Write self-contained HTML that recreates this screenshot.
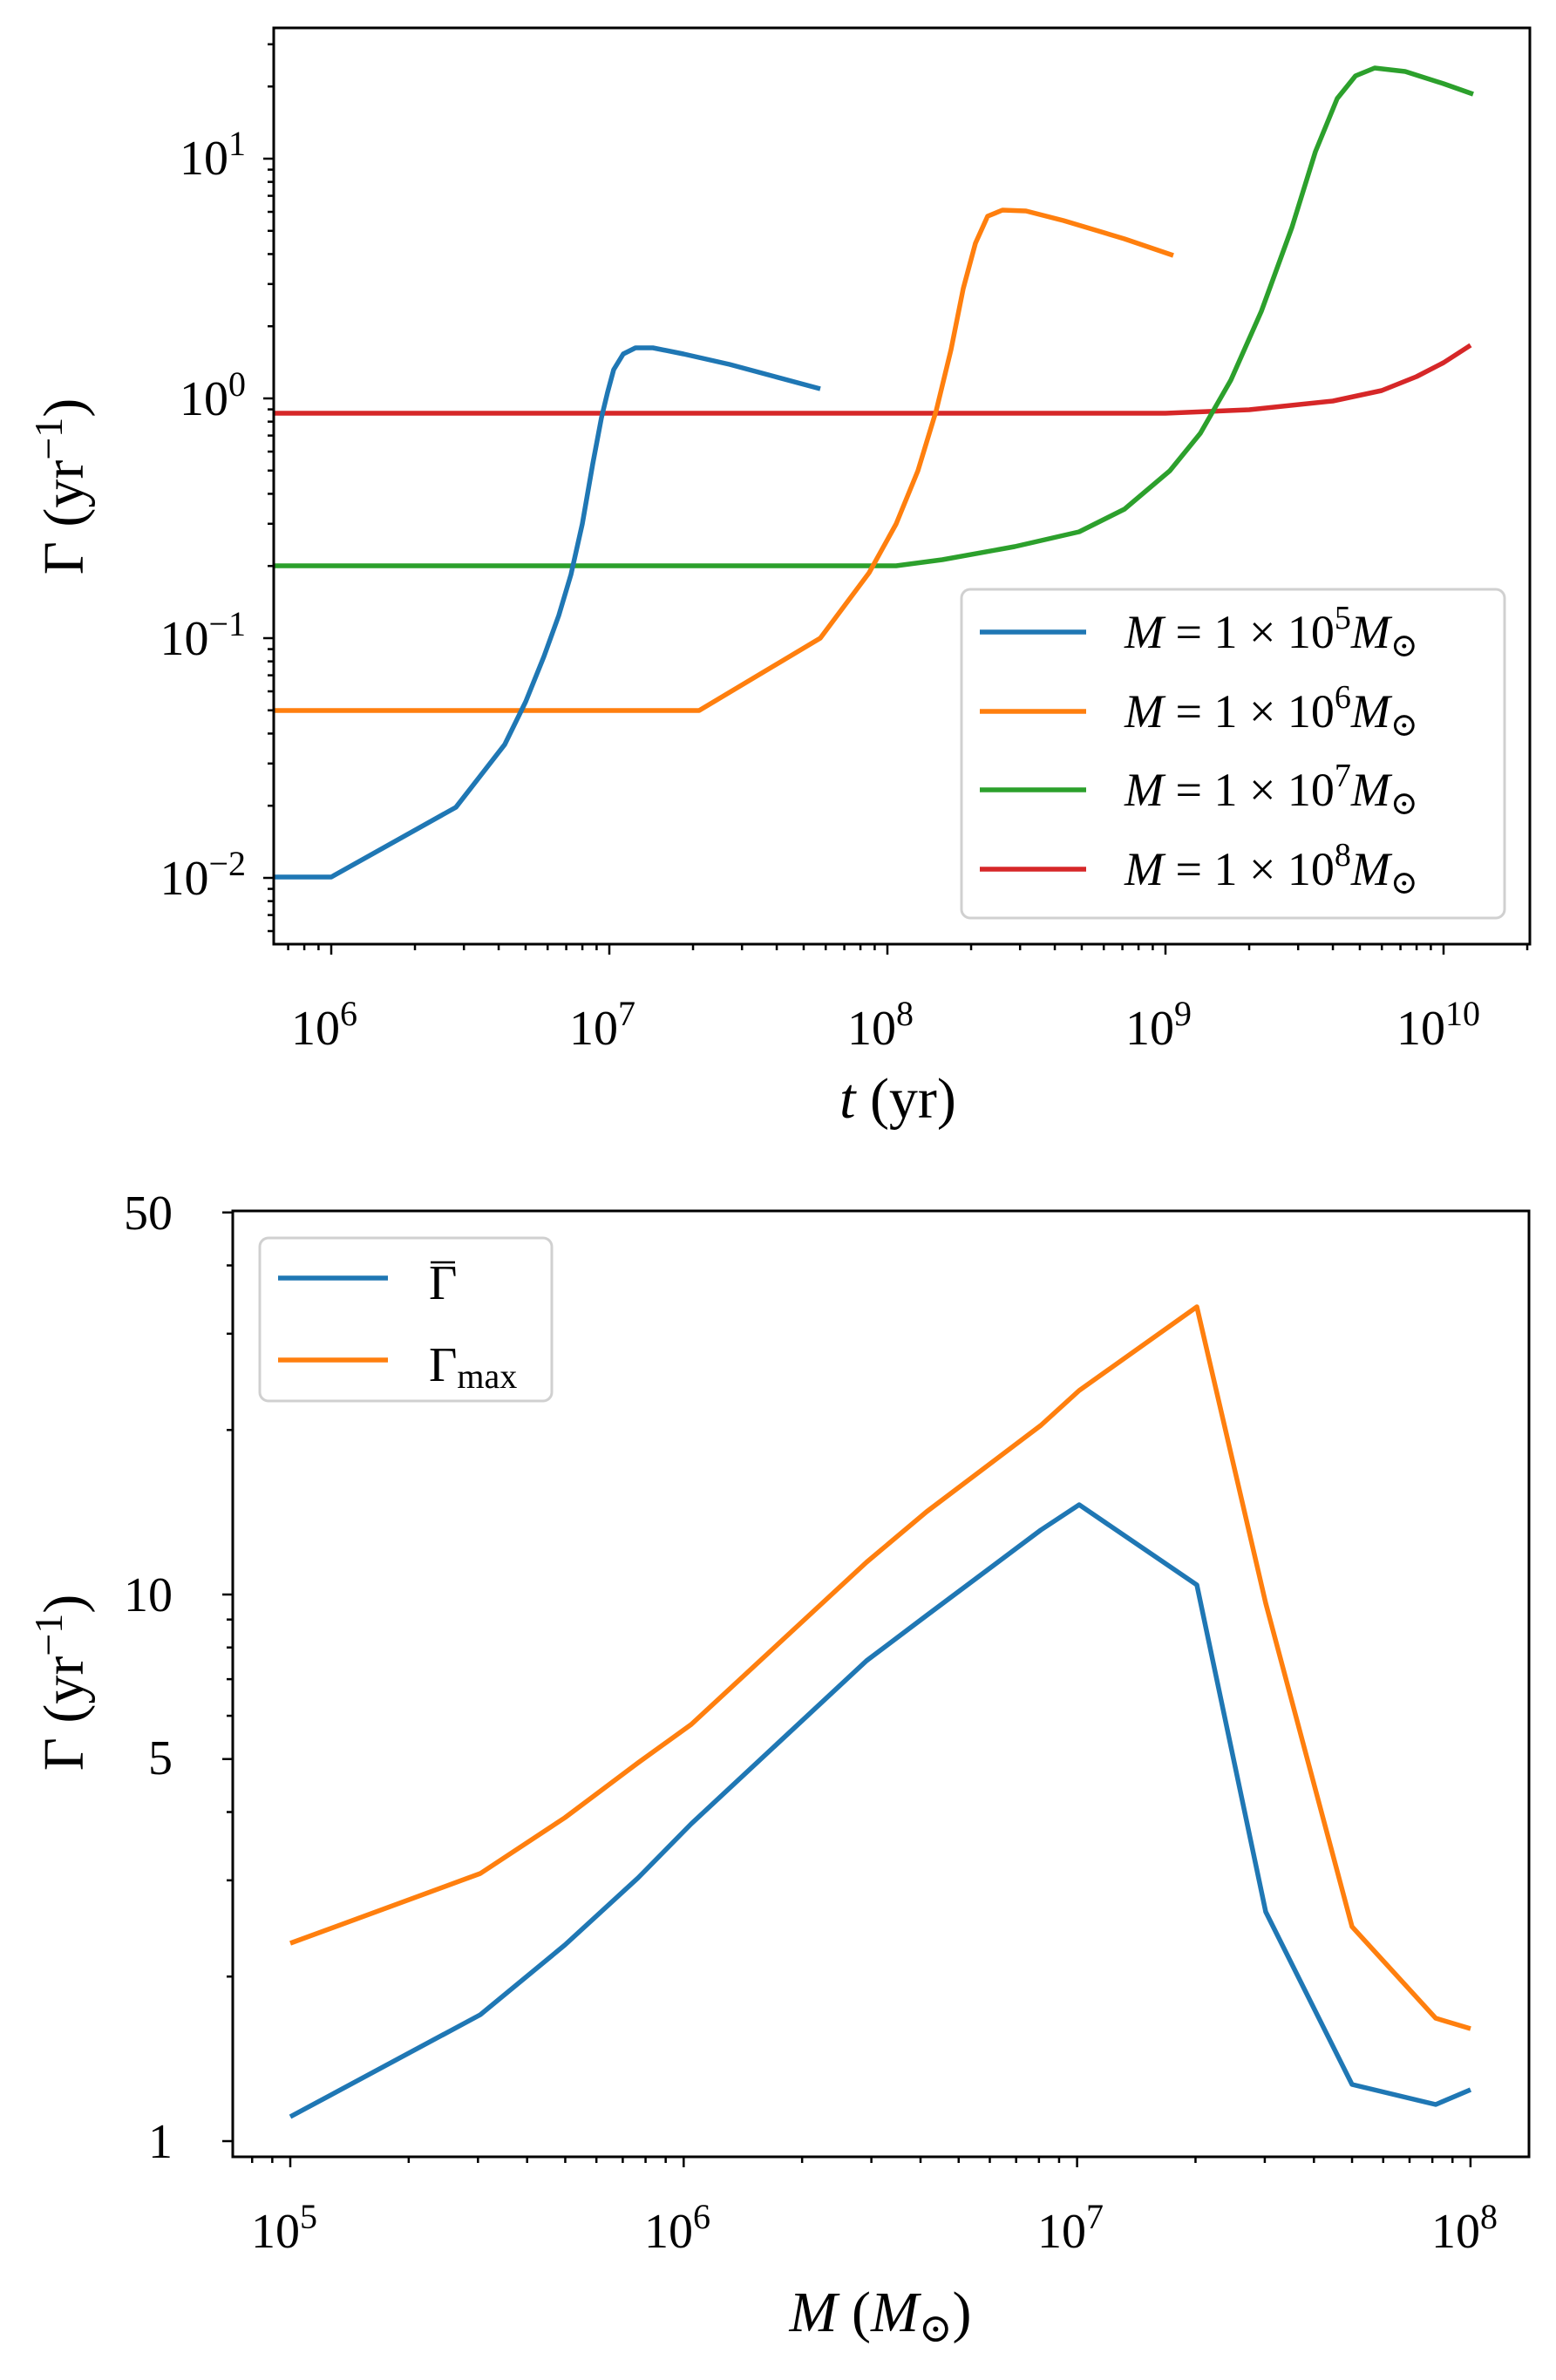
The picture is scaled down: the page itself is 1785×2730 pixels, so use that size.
<!DOCTYPE html>
<html><head><meta charset="utf-8"><style>
html,body{margin:0;padding:0;background:#fff;}
svg{display:block;}
text{font-family:"Liberation Serif","DejaVu Serif",serif;fill:#000;}
</style></head><body>
<svg id="s" width="1785" height="2730" viewBox="0 0 1785 2730" xmlns="http://www.w3.org/2000/svg">
<rect width="1785" height="2730" fill="#fff"/>
<g id="ticks" stroke="#000" stroke-width="2.5"></g>
<!-- TOP PLOT -->
<g fill="none" stroke-width="5.5" stroke-linejoin="round">
<polyline stroke="#d62728" points="314,474 1337,474 1433,470 1529,460 1585,448 1625,432 1656,416 1687,396"/>
<polyline stroke="#2ca02c" points="314,649 1028,649 1081,642 1164,627 1238,610 1290,584 1342,540 1377,497 1412,436 1447,357 1482,261 1509,174 1534,113 1555,87 1577,78 1612,82 1656,96 1690,108"/>
<polyline stroke="#ff7f0e" points="314,815 802,815 941,732 997,657 1028,601 1053,540 1074,471 1091,401 1105,331 1119,279 1133,248 1150,241 1177,242 1220,253 1290,274 1346,293"/>
<polyline stroke="#1f77b4" points="314,1006 380,1006 523,926 579,854 603,805 624,753 641,706 655,659 668,601 680,532 690,479 697,450 704,424 715,406 729,399 749,399 784,406 837,418 889,432 941,446"/>
</g>
<rect x="314" y="32" width="1441" height="1051" fill="none" stroke="#000" stroke-width="3"/>
<rect x="1103" y="676" width="623" height="377" rx="10" fill="#fff" fill-opacity="0.85" stroke="#d0d0d0" stroke-width="3"/>
<g stroke-width="5.5">
<line x1="1124" y1="725" x2="1246" y2="725" stroke="#1f77b4"/>
<line x1="1124" y1="816" x2="1246" y2="816" stroke="#ff7f0e"/>
<line x1="1124" y1="906" x2="1246" y2="906" stroke="#2ca02c"/>
<line x1="1124" y1="997" x2="1246" y2="997" stroke="#d62728"/>
</g>
<g font-size="54">
<text x="1290" y="743"><tspan font-style="italic">M</tspan> = 1 × 10<tspan dy="-22" font-size="38">5</tspan><tspan dy="22" font-style="italic">M</tspan><tspan font-size="38" dy="10">⊙</tspan></text>
<text x="1290" y="834"><tspan font-style="italic">M</tspan> = 1 × 10<tspan dy="-22" font-size="38">6</tspan><tspan dy="22" font-style="italic">M</tspan><tspan font-size="38" dy="10">⊙</tspan></text>
<text x="1290" y="924"><tspan font-style="italic">M</tspan> = 1 × 10<tspan dy="-22" font-size="38">7</tspan><tspan dy="22" font-style="italic">M</tspan><tspan font-size="38" dy="10">⊙</tspan></text>
<text x="1290" y="1015"><tspan font-style="italic">M</tspan> = 1 × 10<tspan dy="-22" font-size="38">8</tspan><tspan dy="22" font-style="italic">M</tspan><tspan font-size="38" dy="10">⊙</tspan></text>
</g>
<g font-size="56" text-anchor="end">
<text x="282" y="200">10<tspan dy="-22" font-size="40">1</tspan></text>
<text x="282" y="476">10<tspan dy="-22" font-size="40">0</tspan></text>
<text x="282" y="751">10<tspan dy="-22" font-size="40">−1</tspan></text>
<text x="282" y="1026">10<tspan dy="-22" font-size="40">−2</tspan></text>
</g>
<g font-size="56" text-anchor="middle">
<text x="372" y="1198">10<tspan dy="-22" font-size="40">6</tspan></text>
<text x="691" y="1198">10<tspan dy="-22" font-size="40">7</tspan></text>
<text x="1010" y="1198">10<tspan dy="-22" font-size="40">8</tspan></text>
<text x="1329" y="1198">10<tspan dy="-22" font-size="40">9</tspan></text>
<text x="1650" y="1198">10<tspan dy="-22" font-size="40">10</tspan></text>
<text x="1030" y="1282" font-size="66"><tspan font-style="italic">t</tspan> (yr)</text>
</g>
<text transform="translate(95,558) rotate(-90)" font-size="66" text-anchor="middle">Γ (yr<tspan dy="-24" font-size="46">−1</tspan><tspan dy="24">)</tspan></text>

<!-- BOTTOM PLOT -->
<g fill="none" stroke-width="5.5" stroke-linejoin="round">
<polyline stroke="#1f77b4" points="333,2428 551,2311 648,2231 732,2154 793,2092 994,1905 1063,1853 1194,1755 1238,1726 1373,1818 1452,2193 1551,2391 1647,2414 1687,2397"/>
<polyline stroke="#ff7f0e" points="333,2229 551,2149 648,2085 732,2022 793,1978 994,1792 1063,1734 1194,1635 1238,1595 1373,1499 1452,1839 1551,2210 1647,2315 1687,2327"/>
</g>
<rect x="267" y="1389" width="1487" height="1085" fill="none" stroke="#000" stroke-width="3"/>
<rect x="298" y="1420" width="335" height="187" rx="10" fill="#fff" fill-opacity="0.85" stroke="#d0d0d0" stroke-width="3"/>
<line x1="319" y1="1466" x2="445" y2="1466" stroke="#1f77b4" stroke-width="5.5"/>
<line x1="319" y1="1560" x2="445" y2="1560" stroke="#ff7f0e" stroke-width="5.5"/>
<line x1="494" y1="1448" x2="522" y2="1448" stroke="#000" stroke-width="2.5"/>
<text x="492" y="1490" font-size="56">Γ</text>
<text x="492" y="1584" font-size="56">Γ<tspan font-size="40" dy="8">max</tspan></text>
<g font-size="56" text-anchor="end">
<text x="198" y="1410">50</text>
<text x="198" y="1848">10</text>
<text x="198" y="2035">5</text>
<text x="198" y="2475">1</text>
</g>
<g font-size="56" text-anchor="middle">
<text x="326" y="2578">10<tspan dy="-22" font-size="40">5</tspan></text>
<text x="777" y="2578">10<tspan dy="-22" font-size="40">6</tspan></text>
<text x="1228" y="2578">10<tspan dy="-22" font-size="40">7</tspan></text>
<text x="1680" y="2578">10<tspan dy="-22" font-size="40">8</tspan></text>
<text x="1010" y="2674" font-size="66"><tspan font-style="italic">M</tspan> (<tspan font-style="italic">M</tspan><tspan font-size="46" dy="12">⊙</tspan><tspan dy="-12">)</tspan></text>
</g>
<text transform="translate(95,1930) rotate(-90)" font-size="66" text-anchor="middle">Γ (yr<tspan dy="-24" font-size="46">−1</tspan><tspan dy="24">)</tspan></text>
</svg>
<script>
(function(){
var g=document.getElementById('ticks'),o='';
function L(x1,y1,x2,y2){o+='<line x1="'+x1+'" y1="'+y1+'" x2="'+x2+'" y2="'+y2+'"/>';}
var i,d,v,p;
for(d=-3;d<=1;d++)for(i=1;i<10;i++){v=d+Math.log10(i);p=182+(1-v)*275;if(p<32||p>1083)continue;L(314,p,314-(i==1?12:7),p);}
for(d=5;d<=10;d++)for(i=1;i<10;i++){v=d+Math.log10(i);p=380+(v-6)*319;if(p<314||p>1755)continue;L(p,1083,p,1083+(i==1?12:7));}
for(d=-1;d<=1;d++)for(i=1;i<10;i++){v=d+Math.log10(i);p=2456-v*627;if(p<1389||p>2474)continue;L(267,p,267-(i==1||(d==0&&i==5)||(d==1&&i==5)?12:7),p);}
for(d=4;d<=8;d++)for(i=1;i<10;i++){v=d+Math.log10(i);p=333+(v-5)*451.3;if(p<267||p>1754)continue;L(p,2474,p,2474+(i==1?12:7));}
g.innerHTML=o;
})();
</script>
</body></html>
